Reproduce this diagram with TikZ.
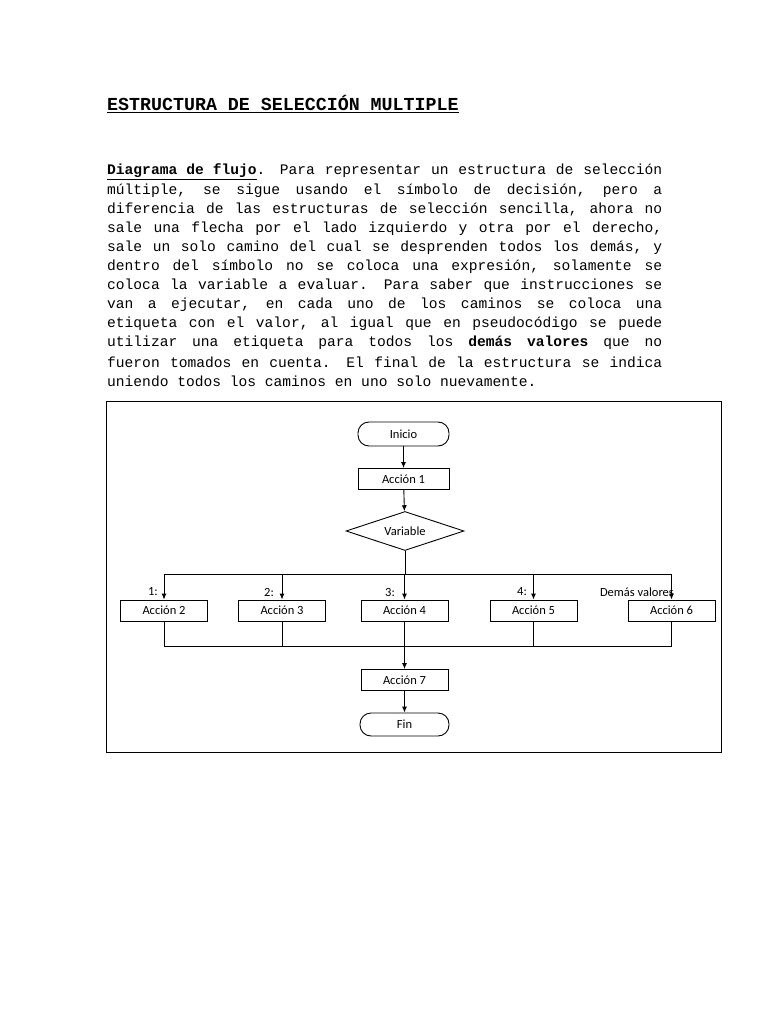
\documentclass[tikz,border=0pt]{standalone}
\usepackage{fontspec}
\setmainfont{Liberation Mono}
\newfontfamily\diafont{Carlito}
\usetikzlibrary{shapes.geometric,arrows.meta}
\newcommand{\jline}[1]{\hbox to 555pt{\spaceskip=9pt plus 1fil\relax #1}}
\begin{document}
\begin{tikzpicture}[x=1pt,y=-1pt,
  txt/.style={anchor=west,inner sep=0pt,font=\fontsize{14.6}{16}\selectfont},
  box/.style={draw,line width=0.9pt,minimum width=87pt,minimum height=21pt,inner sep=0pt,font=\diafont\fontsize{12.5}{14}\selectfont},
  pill/.style={box,rounded corners=11pt,minimum width=91pt,minimum height=24pt},
  dia/.style={draw,line width=0.9pt,diamond,aspect=3,minimum width=118pt,minimum height=39pt,inner sep=0pt,font=\diafont\fontsize{12.5}{14}\selectfont},
  lab/.style={font=\diafont\fontsize{12.5}{14}\selectfont,inner sep=0pt},
  arr/.style={line width=0.9pt,-{Latex[length=6pt,width=5pt]}},
  ln/.style={line width=0.9pt}]
\useasboundingbox (0,0) rectangle (768,1024);
\fill[white] (0,0) rectangle (768,1024);
\node[anchor=west,inner sep=0pt,font=\bfseries\fontsize{18.3}{20}\selectfont] (title) at (107,103) {ESTRUCTURA DE SELECCIÓN MULTIPLE};
\draw[line width=1.2pt] (title.south west)++(0,2) -- ([yshift=-2pt]title.south east);
\node[txt] (l1) at (107,172) {\jline{\underline{\textbf{Diagrama de flujo}}. Para representar un estructura de selección}};
\node[txt] (l2) at (107,191) {\jline{múltiple, se sigue usando el símbolo de decisión, pero a}};
\node[txt] (l3) at (107,210) {\jline{diferencia de las estructuras de selección sencilla, ahora no}};
\node[txt] (l4) at (107,229) {\jline{sale una flecha por el lado izquierdo y otra por el derecho,}};
\node[txt] (l5) at (107,248) {\jline{sale un solo camino del cual se desprenden todos los demás, y}};
\node[txt] (l6) at (107,267) {\jline{dentro del símbolo no se coloca una expresión, solamente se}};
\node[txt] (l7) at (107,286) {\jline{coloca la variable a evaluar. Para saber que instrucciones se}};
\node[txt] (l8) at (107,305) {\jline{van a ejecutar, en cada uno de los caminos se coloca una}};
\node[txt] (l9) at (107,324) {\jline{etiqueta con el valor, al igual que en pseudocódigo se puede}};
\node[txt] (l10) at (107,343) {\jline{utilizar una etiqueta para todos los \textbf{demás valores} que no}};
\node[txt] (l11) at (107,362) {\jline{fueron tomados en cuenta. El final de la estructura se indica}};
\node[txt] (l12) at (107,381) {uniendo todos los caminos en uno solo nuevamente.};
\draw[line width=1pt] (106,401) rectangle (721,752);
\node[pill] (ini) at (403.5,434) {Inicio};
\node[box,minimum width=91pt] (a1) at (403.5,479) {Acción 1};
\node[dia] (var) at (405,531) {Variable};
\node[box] (a2) at (164,610.5) {Acción 2};
\node[box] (a3) at (282,610.5) {Acción 3};
\node[box] (a4) at (404.5,610.5) {Acción 4};
\node[box] (a5) at (533.5,610.5) {Acción 5};
\node[box] (a6) at (671.5,610.5) {Acción 6};
\node[box,minimum width=87pt] (a7) at (404.5,680) {Acción 7};
\node[pill,minimum width=89pt,minimum height=23pt] (fin) at (404.5,724.5) {Fin};
\coordinate (split) at (var.south |- 0,574);
\coordinate (merge) at (a4.south |- 0,646);
\draw[arr] (ini) -- (a1);
\draw[arr] (a1) -- (var);
\draw[ln] (var.south) -- (split);
\draw[ln] (a2.north |- split) -- (a6.north |- split);
\foreach \n in {a2,a3,a4,a5,a6} \draw[arr] (\n.north |- split) -- (\n.north);
\foreach \n in {a2,a3,a4,a5,a6} \draw[line width=0.5pt] (\n.south) -- (\n.south |- merge);
\draw[ln] (a2.south |- merge) -- (a6.south |- merge);
\draw[arr] (merge) -- (a7);
\draw[arr] (a7) -- (fin);
\node[lab] (t1) at (153,592) {1:};
\node[lab] (t2) at (269,592) {2:};
\node[lab] (t3) at (390,592) {3:};
\node[lab] (t4) at (522,592) {4:};
\node[lab,anchor=east] (t5) at (674,592) {Demás valores};
\end{tikzpicture}
\end{document}
